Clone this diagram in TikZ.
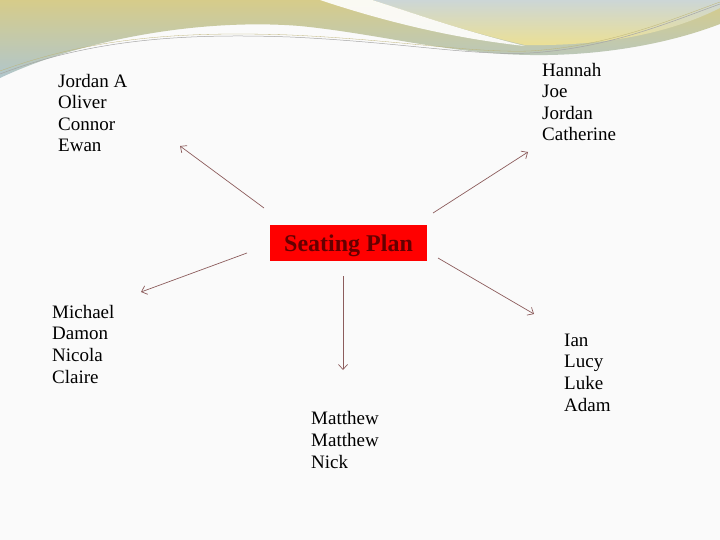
\documentclass[tikz,border=0pt]{standalone}
\usepackage{fontspec}
\setmainfont{Liberation Serif}
\usepackage{tikz}
\usetikzlibrary{arrows.meta}

\definecolor{slidebg}{RGB}{250,250,250}
\definecolor{arrowclr}{RGB}{140,92,92}
\definecolor{titleclr}{RGB}{100,0,0}
\definecolor{waveA}{RGB}{214,204,138}
\definecolor{waveB}{RGB}{176,198,204}
\definecolor{waveC}{RGB}{204,214,214}
\definecolor{waveD}{RGB}{236,224,148}

\begin{document}
\begin{tikzpicture}[x=1pt,y=-1pt,>={Straight Barb[length=5pt,width=9pt]},
    names/.style={anchor=base west,align=left,inner sep=0pt,font=\fontsize{19}{21.6}\selectfont},
    plan/.style={fill=red,text=titleclr,minimum width=157pt,minimum height=36pt,inner sep=0pt,text depth=0pt,font=\fontsize{24}{26}\selectfont\bfseries}]
    \useasboundingbox (0,0) rectangle (720,540);
    \fill[slidebg] (0,0) rectangle (720,540);
    % wave at the top
    \shade[top color=waveA,bottom color=waveB] (0,0) -- (720,0) -- (720,24)
        .. controls (660,47) and (590,56) .. (530,55)
        .. controls (450,54) and (380,34) .. (300,26)
        .. controls (200,18) and (80,40) .. (0,78) -- cycle;
    \shade[top color=waveC,bottom color=waveD] (372,0) -- (720,0) -- (720,8)
        .. controls (660,38) and (590,46) .. (525,45)
        .. controls (460,30) and (410,12) .. (372,0);
    \fill[white,opacity=0.9] (320,0) .. controls (380,20) and (450,38) .. (525,46)
        .. controls (460,30) and (410,12) .. (372,0) -- cycle;
    \draw[gray!70,line width=0.5pt] (0,74) .. controls (90,40) and (180,33) .. (290,37)
        .. controls (400,42) and (470,56) .. (530,53) .. controls (610,48) and (670,22) .. (720,4);
    \draw[waveD!80!black,line width=0.3pt] (0,71) .. controls (90,38) and (180,31) .. (290,35)
        .. controls (400,40) and (470,53) .. (530,51) .. controls (610,46) and (670,20) .. (720,2);

    \node[plan] (seat) at (348.5,243) {Seating Plan};

    % base of the last line in each group
    \node[names] (gnw) at (58,152) {Jordan A\\Oliver\\Connor\\Ewan};
    \node[names] (gne) at (542,141) {Hannah\\Joe\\Jordan\\Catherine};
    \node[names] (gw) at (52,383) {Michael\\Damon\\Nicola\\Claire};
    \node[names] (gse) at (564,411) {Ian\\Lucy\\Luke\\Adam};
    \node[names] (gs) at (311,468) {Matthew\\Matthew\\Nick};

    \coordinate (nw0) at (264,208); \coordinate (nw1) at (180,146);
    \coordinate (ne0) at (433,213); \coordinate (ne1) at (528,152);
    \coordinate (w0) at (247,253);  \coordinate (w1) at (141,292);
    \coordinate (se0) at (438,258); \coordinate (se1) at (534,314);
    \coordinate (s0) at (343,276);  \coordinate (s1) at (343,370);
    \foreach \s/\e in {nw0/nw1,ne0/ne1,w0/w1,se0/se1,s0/s1}
    {
        \draw[->,arrowclr,line width=0.7pt] (\s) -- (\e);
    }
\end{tikzpicture}
\end{document}
